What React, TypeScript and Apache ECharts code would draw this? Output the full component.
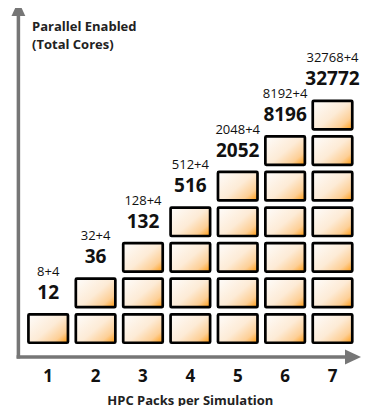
import React, { useEffect, useRef } from "react";
import * as echarts from "echarts";

const packs = [1, 2, 3, 4, 5, 6, 7];
const packLabels = ["1", "2", "3", "4", "5", "6", "7"];
const baseCores = [8, 32, 128, 512, 2048, 8192, 32768];
const extraCores = [4, 4, 4, 4, 4, 4, 4];
const totalCores = [12, 36, 132, 516, 2052, 8196, 32772];

const xTitle = "HPC Packs per Simulation";
const yTitle = "Parallel Enabled\n(Total Cores)";

const FONT = "'Open Sans', 'Noto Sans', sans-serif";
const AXIS_GRAY = "#767676";

export default function App() {
  const ref = useRef<HTMLDivElement>(null);

  useEffect(() => {
    if (!ref.current) return;
    const chart = echarts.init(ref.current, null, { renderer: "svg" });

    const boxData: number[][] = [];
    packs.forEach((p, i) => {
      for (let r = 1; r <= p; r++) boxData.push([i, r]);
    });
    const labelData = packs.map((p, i) => [i, p + 1, baseCores[i], extraCores[i], totalCores[i]]);

    const gradient = new echarts.graphic.LinearGradient(0, 0.1, 1, 0.95, [
      { offset: 0, color: "#fefbf8" },
      { offset: 0.5, color: "#fdebd6" },
      { offset: 0.8, color: "#fdcf96" },
      { offset: 1, color: "#ff9f1c" },
    ]);

    chart.setOption({
      animation: false,
      grid: { left: 24.5, right: 30.8, top: 26.1, bottom: 67.7 },
      xAxis: {
        type: "category",
        data: packLabels,
        boundaryGap: true,
        axisLine: { show: false },
        axisTick: { show: false },
        splitLine: { show: false },
        axisLabel: {
          margin: 21,
          fontSize: 17,
          fontWeight: "bold",
          fontFamily: FONT,
          color: "#111",
        },
        name: xTitle,
        nameLocation: "middle",
        nameGap: 47,
        nameTextStyle: { fontSize: 13, fontWeight: "bold", fontFamily: FONT, color: "#222" },
      },
      yAxis: {
        type: "value",
        min: 0.5,
        max: 9.5,
        show: false,
      },
      graphic: [
        {
          type: "line",
          shape: { x1: 18.4, y1: 358.5, x2: 18.4, y2: 12 },
          style: { stroke: AXIS_GRAY, lineWidth: 3.5 },
        },
        {
          type: "polygon",
          shape: { points: [[11.5, 16], [18.4, 1], [25.3, 16]] },
          style: { fill: AXIS_GRAY },
        },
        {
          type: "line",
          shape: { x1: 16.6, y1: 357, x2: 350, y2: 357 },
          style: { stroke: AXIS_GRAY, lineWidth: 3.5 },
        },
        {
          type: "polygon",
          shape: { points: [[345, 349.5], [361, 357], [345, 364.5]] },
          style: { fill: AXIS_GRAY },
        },
        {
          type: "text",
          left: 32,
          top: 17,
          style: {
            text: yTitle,
            font: `bold 13px ${FONT}`,
            fill: "#222",
            lineHeight: 18,
          },
        },
      ],
      series: [
        {
          type: "custom",
          data: boxData,
          renderItem: (params: any, api: any) => {
            const c = api.coord([api.value(0), api.value(1)]);
            const s = api.size([1, 1]);
            const w = s[0] * 0.834;
            const h = s[1] * 0.8;
            return {
              type: "rect",
              shape: { x: c[0] - w / 2, y: c[1] - h / 2, width: w, height: h, r: 1 },
              style: { fill: gradient, stroke: "#000", lineWidth: 2.7 },
            };
          },
        },
        {
          type: "custom",
          data: labelData,
          renderItem: (params: any, api: any) => {
            const c = api.coord([api.value(0), api.value(1)]);
            const base = api.value(2);
            const extra = api.value(3);
            const total = api.value(4);
            return {
              type: "group",
              children: [
                {
                  type: "text",
                  x: c[0],
                  y: c[1] - 22,
                  style: {
                    text: `${base}+${extra}`,
                    font: `13px ${FONT}`,
                    fill: "#111",
                    align: "center",
                    verticalAlign: "middle",
                  },
                },
                {
                  type: "text",
                  x: c[0],
                  y: c[1] - 1,
                  style: {
                    text: `${total}`,
                    font: `bold 19px ${FONT}`,
                    fill: "#111",
                    align: "center",
                    verticalAlign: "middle",
                  },
                },
              ],
            };
          },
        },
      ],
    });

    return () => chart.dispose();
  }, []);

  return <div ref={ref} style={{ width: 387, height: 414, margin: -8 }} />;
}
